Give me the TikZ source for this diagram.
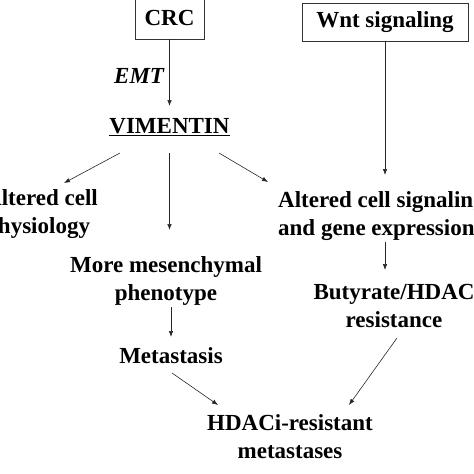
\documentclass[tikz,border=0pt]{standalone}
\usepackage{fontspec}
\setmainfont{Liberation Serif}
\usetikzlibrary{positioning}
\usetikzlibrary{calc}
\usetikzlibrary{quotes,arrows.meta}

\begin{document}
\begin{tikzpicture}[x=1pt,y=-1pt,
  txt/.style={inner sep=0pt, font=\bfseries\fontsize{23}{28}\selectfont},
  box/.style={txt, draw=black!80, line width=0.6pt},
  arr/.style={line width=0.6pt, draw=black!85, -{Latex[length=6pt,width=4.5pt]}}]

 \useasboundingbox (0,0) rectangle (474,474); % page

 \node[box, minimum width=69pt, minimum height=42pt] (crc) at (169.5,18) {CRC}; % top left box
 \node[box, minimum width=166pt, minimum height=38pt] (wnt) at (385,22) {Wnt signaling}; % top right box

 \node[txt, anchor=base east] (emt) at (165,83) {\textit{EMT}};
 \node[txt, anchor=base] (vim) at (169.5,133) {\underline{VIMENTIN}};

 \node[txt, anchor=base west, align=left] (acp) at (-15,233) {Altered cell\\physiology};
 \node[txt, anchor=base west, align=left] (acs) at (278,235) {Altered cell signaling\\and gene expression};
 \node[txt, anchor=base, align=center] (mmp) at (166,300) {More mesenchymal\\phenotype};
 \node[txt, anchor=base] (met) at (171,363) {Metastasis};
 \node[txt, anchor=base, align=center] (bhr) at (394,327) {Butyrate/HDAC\\resistance};
 \node[txt, anchor=base, align=center] (hrm) at (290,458) {HDACi-resistant\\metastases};

 % Flechas
 \draw[arr] (crc.south) -- ($(vim.base)+(0,-27)$);
 \draw[arr] ($(vim.base)+(-49.5,20)$) -- ($(acp.base west)+(79,-50)$);
 \draw[arr] ($(vim.base)+(0,20)$) -- ($(vim.base |- mmp.base)+(0,-70)$);
 \draw[arr] ($(vim.base)+(49.5,20)$) -- ($(acs.base west)+(-10,-53)$);
 \draw[arr] (wnt.south) -- ($(wnt.south |- acs.base)+(0,-60)$);
 \draw[arr] ($(acs.base west)+(107,7)$) -- ($(bhr.base)+(-9,-57)$);
 \draw[arr] ($(met.base |- mmp.base)+(0,7)$) -- ($(met.base)+(0,-26)$);
 \draw[arr] ($(met.base)+(1,10)$) -- ($(hrm.base)+(-72,-53)$);
 \draw[arr] ($(bhr.base)+(3,11)$) -- ($(hrm.base)+(59,-53)$);

\end{tikzpicture}
\end{document}
